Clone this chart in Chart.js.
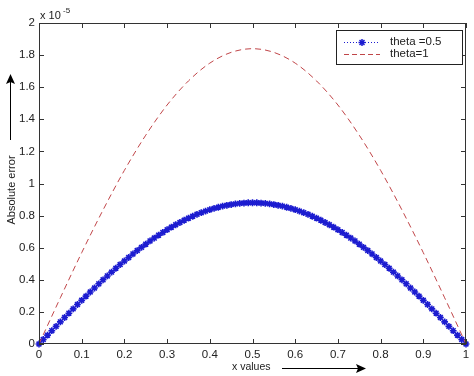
<!DOCTYPE html>
<html><head><meta charset="utf-8">
<script src="https://cdn.jsdelivr.net/npm/chart.js@4.4.1/dist/chart.umd.min.js"></script>
<style>html,body{margin:0;padding:0;background:#fff}canvas{display:block}</style>
</head><body>
<canvas id="c" width="474" height="376"></canvas>
<script>
// x positions of theta=0.5 samples
const xFine = [0,0.01,0.02,0.03,0.04,0.05,0.06,0.07,0.08,0.09,0.1,0.11,0.12,0.13,0.14,0.15,0.16,0.17,0.18,0.19,0.2,
0.21,0.22,0.23,0.24,0.25,0.26,0.27,0.28,0.29,0.3,0.31,0.32,0.33,0.34,0.35,0.36,0.37,0.38,0.39,0.4,
0.41,0.42,0.43,0.44,0.45,0.46,0.47,0.48,0.49,0.5,0.51,0.52,0.53,0.54,0.55,0.56,0.57,0.58,0.59,0.6,
0.61,0.62,0.63,0.64,0.65,0.66,0.67,0.68,0.69,0.7,0.71,0.72,0.73,0.74,0.75,0.76,0.77,0.78,0.79,0.8,
0.81,0.82,0.83,0.84,0.85,0.86,0.87,0.88,0.89,0.9,0.91,0.92,0.93,0.94,0.95,0.96,0.97,0.98,0.99,1];
// absolute error (x 1e-5), theta = 0.5
const theta05 = [0,0.028,0.055,0.083,0.110,0.138,0.165,0.192,0.219,0.246,0.272,0.298,0.324,0.349,0.375,0.400,0.424,0.448,0.472,0.495,0.517,
0.539,0.561,0.582,0.602,0.622,0.642,0.660,0.678,0.695,0.712,0.728,0.743,0.757,0.771,0.784,0.796,0.808,0.818,0.828,0.837,
0.845,0.852,0.859,0.864,0.869,0.873,0.876,0.878,0.880,0.880,0.880,0.878,0.876,0.873,0.869,0.864,0.859,0.852,0.845,0.837,
0.828,0.818,0.808,0.796,0.784,0.771,0.757,0.743,0.728,0.712,0.695,0.678,0.660,0.642,0.622,0.602,0.582,0.561,0.539,0.517,
0.495,0.472,0.448,0.424,0.400,0.375,0.349,0.324,0.298,0.272,0.246,0.219,0.192,0.165,0.138,0.110,0.083,0.055,0.028,0];
// x positions of theta=1 samples
const xCoarse = [0,0.05,0.1,0.15,0.2,0.25,0.3,0.35,0.4,0.45,0.5,0.55,0.6,0.65,0.7,0.75,0.8,0.85,0.9,0.95,1];
// absolute error (x 1e-5), theta = 1
const theta1 = [0,0.288,0.569,0.835,1.082,1.301,1.489,1.639,1.750,1.817,1.840,1.817,1.750,1.639,1.489,1.301,1.082,0.835,0.569,0.288,0];
const xTickLabels = ['0','0.1','0.2','0.3','0.4','0.5','0.6','0.7','0.8','0.9','1'];
const yTickLabels = ['0','0.2','0.4','0.6','0.8','1','1.2','1.4','1.6','1.8','2'];

const BLUE = '#1c1cd0', RED = '#c04548', INK = '#222';
const FONT = '"Liberation Sans", Arial, sans-serif';

const framePlugin = {
  id: 'frame',
  afterDraw(chart) {
    const {ctx, chartArea: a, scales: {x, y}} = chart;
    ctx.save();
    ctx.strokeStyle = '#333'; ctx.lineWidth = 1;
    ctx.strokeRect(a.left + 0.5, a.top + 0.5, a.right - a.left - 1, a.bottom - a.top - 1);
    ctx.beginPath();
    x.ticks.forEach(t => {
      const p = Math.round(x.getPixelForValue(t.value)) + 0.5;
      ctx.moveTo(p, a.bottom); ctx.lineTo(p, a.bottom - 5);
      ctx.moveTo(p, a.top); ctx.lineTo(p, a.top + 5);
    });
    y.ticks.forEach(t => {
      const p = Math.round(y.getPixelForValue(t.value)) + 0.5;
      ctx.moveTo(a.left, p); ctx.lineTo(a.left + 5, p);
      ctx.moveTo(a.right, p); ctx.lineTo(a.right - 5, p);
    });
    ctx.stroke();

    // exponent label
    ctx.fillStyle = INK;
    ctx.font = '11px ' + FONT;
    ctx.textBaseline = 'alphabetic'; ctx.textAlign = 'left';
    ctx.fillText('x 10', 40, 19);
    ctx.font = '8px ' + FONT;
    ctx.fillText('-5', 63, 13);

    // x title + arrow
    ctx.font = '10.5px ' + FONT;
    ctx.textBaseline = 'middle';
    ctx.fillText('x values', 232, 367);
    ctx.strokeStyle = '#000'; ctx.fillStyle = '#000'; ctx.lineWidth = 1;
    ctx.beginPath(); ctx.moveTo(282, 368.5); ctx.lineTo(362, 368.5); ctx.stroke();
    ctx.beginPath(); ctx.moveTo(366, 368.5); ctx.lineTo(356, 364); ctx.lineTo(358, 368.5); ctx.lineTo(356, 373); ctx.closePath(); ctx.fill();

    // y title + arrow
    ctx.save();
    ctx.translate(12, 190); ctx.rotate(-Math.PI / 2);
    ctx.fillStyle = INK; ctx.textAlign = 'center'; ctx.textBaseline = 'middle';
    ctx.font = '11px ' + FONT;
    ctx.fillText('Absolute error', 0, 0);
    ctx.restore();
    ctx.beginPath(); ctx.moveTo(10.5, 140); ctx.lineTo(10.5, 80); ctx.stroke();
    ctx.beginPath(); ctx.moveTo(10.5, 74); ctx.lineTo(6, 84); ctx.lineTo(10.5, 82); ctx.lineTo(15, 84); ctx.closePath(); ctx.fill();

    // legend
    const lx = 336, ly = 30, lw = 126, lh = 34;
    ctx.fillStyle = '#fff';
    ctx.fillRect(lx, ly, lw, lh);
    ctx.strokeStyle = '#222';
    ctx.strokeRect(lx + 0.5, ly + 0.5, lw, lh);
    const ds = chart.data.datasets;
    // blue entry
    ctx.strokeStyle = ds[1].borderColor; ctx.setLineDash([1, 2]);
    ctx.beginPath(); ctx.moveTo(344, 42.5); ctx.lineTo(380, 42.5); ctx.stroke();
    ctx.setLineDash([]);
    ctx.lineWidth = 1.5;
    Chart.helpers.drawPoint(ctx, {pointStyle: 'star', radius: 3.5, borderWidth: 1.5}, 362, 42.5);
    ctx.lineWidth = 1;
    // red entry
    ctx.strokeStyle = ds[0].borderColor; ctx.setLineDash([5, 3]);
    ctx.beginPath(); ctx.moveTo(344, 54.5); ctx.lineTo(380, 54.5); ctx.stroke();
    ctx.setLineDash([]);
    ctx.fillStyle = INK; ctx.font = '11.5px ' + FONT; ctx.textAlign = 'left'; ctx.textBaseline = 'middle';
    ctx.fillText(ds[1].label, 390, 42);
    ctx.fillText(ds[0].label, 390, 54);
    ctx.restore();
  }
};

new Chart(document.getElementById('c'), {
  type: 'line',
  data: {
    datasets: [
      {
        label: 'theta=1',
        data: xCoarse.map((v, i) => ({x: v, y: theta1[i]})),
        borderColor: RED, borderWidth: 1, borderDash: [6, 4],
        pointRadius: 0, tension: 0.4, cubicInterpolationMode: 'monotone', fill: false
      },
      {
        label: 'theta =0.5',
        data: xFine.map((v, i) => ({x: v, y: theta05[i]})),
        borderColor: BLUE, borderWidth: 1, borderDash: [1, 2],
        pointStyle: 'star', pointRadius: 3.4, pointBorderWidth: 1.6,
        pointBorderColor: BLUE, pointBackgroundColor: BLUE, fill: false, clip: false
      }
    ]
  },
  options: {
    responsive: false, animation: false, devicePixelRatio: 1,
    layout: {padding: {top: 23, right: 8, left: 0, bottom: 0}},
    plugins: {legend: {display: false}, tooltip: {enabled: false}},
    scales: {
      x: {
        type: 'linear', min: 0, max: 1,
        grid: {display: false, drawTicks: false},
        border: {display: false},
        afterFit(s) { s.height = 32; },
        afterBuildTicks(s) { s.ticks = xTickLabels.map(l => ({value: parseFloat(l)})); },
        ticks: {padding: 4, color: INK, font: {family: FONT, size: 11.5},
          callback: (v, i) => xTickLabels[i]}
      },
      y: {
        type: 'linear', min: 0, max: 2,
        grid: {display: false, drawTicks: false},
        border: {display: false},
        afterFit(s) { s.width = 39; },
        afterBuildTicks(s) { s.ticks = yTickLabels.map(l => ({value: parseFloat(l)})); },
        ticks: {padding: 4, color: INK, font: {family: FONT, size: 11.5},
          callback: (v, i) => yTickLabels[i]}
      }
    }
  },
  plugins: [framePlugin]
});
</script>
</body></html>
